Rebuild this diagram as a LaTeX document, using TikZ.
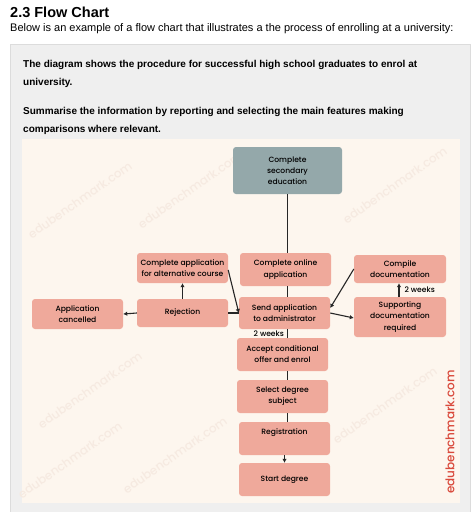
\documentclass[tikz,border=0pt]{standalone}
\usepackage{fontspec}
\setmainfont{Liberation Sans}
\newfontfamily\boxfont{Poppins}[UprightFont=* Medium]
\usetikzlibrary{arrows.meta}
\definecolor{panel}{HTML}{EFEFEF}
\definecolor{panelline}{HTML}{DCDCDC}
\definecolor{cream}{HTML}{FDF6EE}
\definecolor{salmon}{HTML}{EFA99B}
\definecolor{slate}{HTML}{94A8AA}
\definecolor{wmred}{HTML}{D9493B}
\definecolor{wmfaint}{HTML}{F6EAE1}
\tikzset{
  box/.style={fill=salmon, rounded corners=3pt, minimum width=91pt, minimum height=33pt,
    align=center, inner sep=1pt, font=\boxfont\fontsize{7.6}{11.2}\selectfont},
  link/.style={line width=1.1pt, draw=black!85},
  arr/.style={link, -{Latex[length=4pt,width=4.5pt]}},
  wk/.style={font=\boxfont\fontsize{7.6}{7.6}\selectfont, inner sep=3pt},
  wm/.style={rotate=35, text=wmfaint, font=\boxfont\fontsize{12}{12}\selectfont},
  hline/.style={anchor=base west, inner sep=0pt},
}
\begin{document}
\begin{tikzpicture}[x=1pt,y=-1pt]
\useasboundingbox (0,0) rectangle (472,512);
\fill[white] (0,0) rectangle (472,512);
% heading
\node[hline, font=\bfseries\fontsize{14.5}{14.5}\selectfont] (title) at (10,17) {2.3 Flow Chart};
\node[hline, font=\fontsize{11}{11}\selectfont] (intro) at (10,31) {Below is an example of a flow chart that illustrates a the process of enrolling at a university:};
% task box
\filldraw[fill=panel, draw=panelline] (10,44) rectangle (470,520);
\node[hline, font=\bfseries\fontsize{10}{10}\selectfont] (taskA) at (23,67) {The diagram shows the procedure for successful high school graduates to enrol at};
\node[hline, font=\bfseries\fontsize{10}{10}\selectfont] (taskB) at (23,85) {university.};
\node[hline, font=\bfseries\fontsize{10}{10}\selectfont] (taskC) at (23,114) {Summarise the information by reporting and selecting the main features making};
\node[hline, font=\bfseries\fontsize{10}{10}\selectfont] (taskD) at (23,132) {comparisons where relevant.};
\fill[cream] (22,139) rectangle (460,503);
% faint watermarks
\foreach \wx/\wy in {80/200, 190/190, 395/185, 90/390, 70/460, 175/455, 385/405}
  \node[wm] at (\wx,\wy) {edubenchmark.com};
\node[rotate=90, text=wmred, font=\boxfont\fontsize{12}{12}\selectfont] (site) at (450,432) {edubenchmark.com};
% flow chart
\node[box, fill=slate, minimum width=109pt, minimum height=47pt] (edu) at (287.5,170.5) {Complete\\secondary\\education};
\node[box] (online) at (285.5,269.5) {Complete online\\application};
\node[box, minimum height=30pt] (alt) at (182.5,268) {Complete application\\for alternative course};
\node[box, minimum width=92pt, minimum height=28pt] (compile) at (400,269) {Compile\\documentation};
\node[box, minimum width=92pt, minimum height=40pt] (support) at (400,317) {Supporting\\documentation\\required};
\node[box, minimum height=32pt] (send) at (284.5,313) {Send application\\to administrator};
\node[box, minimum height=28pt] (reject) at (182.5,313) {Rejection};
\node[box, minimum height=30pt] (cancel) at (77.5,314) {Application\\cancelled};
\node[box] (accept) at (282.5,354.5) {Accept conditional\\offer and enrol};
\node[box] (select) at (282.5,396.5) {Select degree\\subject};
\node[box, text depth=13pt] (reg) at (284.5,438.5) {Registration};
\node[box] (start) at (284.5,479.5) {Start degree};
% connectors
\draw[link] (edu.south) -- (edu.south |- online.north);
\draw[link] (online.south -| edu.south) -- (send.north -| edu.south);
\draw[link] (send.south -| edu.south) -- node[wk, left] {2 weeks} (accept.north -| edu.south);
\draw[link] (accept.south -| edu.south) -- (select.north -| edu.south);
\draw[link] (select.south -| edu.south) -- (reg.north -| edu.south);
\draw[arr] (reg.south) -- (start.north);
\draw[link] (reject.east) -- (send.west);
\draw[arr] ([yshift=-2pt]alt.east) -- (send.west);
\draw[arr] (reject.west) -- (cancel.east);
\draw[arr] (reject.north) -- (alt.south);
\draw[arr] (compile.west) -- ([yshift=5pt]send.east);
\draw[arr] (send.east) -- ([yshift=-1pt]support.west);
\draw[arr] ([xshift=-1pt]support.north) -- node[wk, right, xshift=2pt] {2 weeks} ([xshift=-1pt]compile.south);
\end{tikzpicture}
\end{document}
